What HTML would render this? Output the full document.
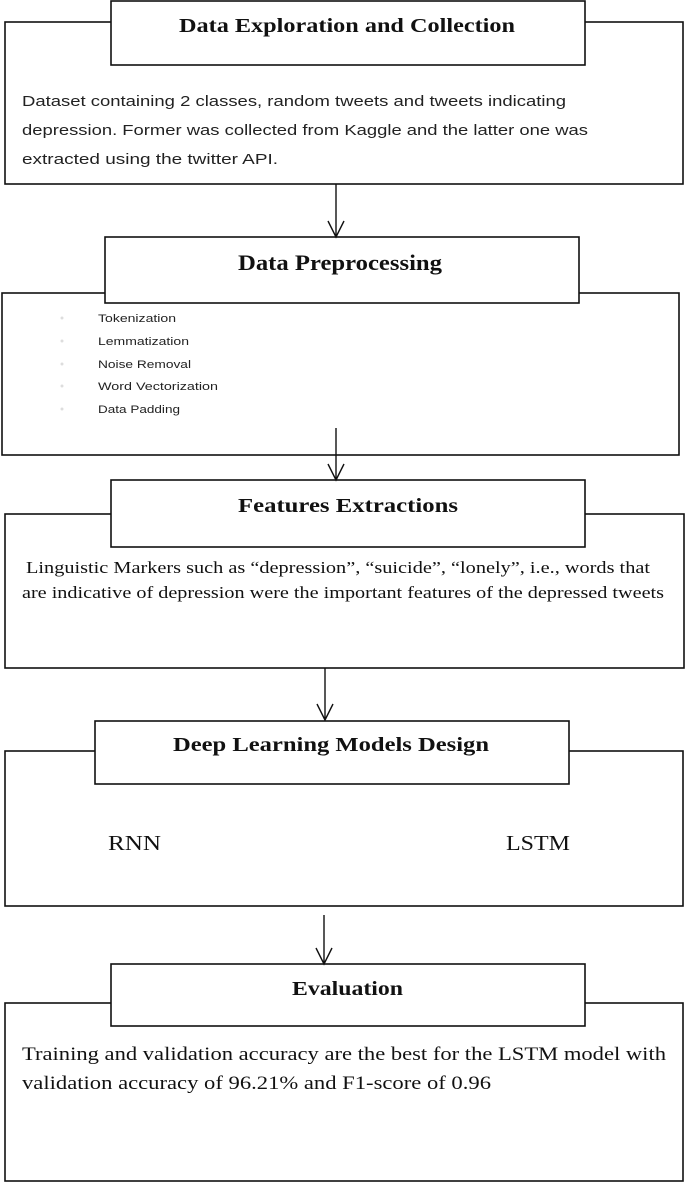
<!DOCTYPE html>
<html><head><meta charset="utf-8"><style>html,body{margin:0;padding:0;background:#fff}svg{display:block}</style></head>
<body>
<svg width="685" height="1183" viewBox="0 0 685 1183" xmlns="http://www.w3.org/2000/svg">
<g fill="#fff" stroke="#111" stroke-width="1.6">
<rect x="5" y="22" width="678" height="162"/>
<rect x="111" y="1" width="474" height="64"/>
<rect x="2" y="293" width="677" height="162"/>
<rect x="105" y="237" width="474" height="66"/>
<rect x="5" y="514" width="679" height="154"/>
<rect x="111" y="480" width="474" height="67"/>
<rect x="5" y="751" width="678" height="155"/>
<rect x="95" y="721" width="474" height="63"/>
<rect x="5" y="1003" width="678" height="178"/>
<rect x="111" y="964" width="474" height="62"/>
</g>
<g stroke="#111" stroke-width="1.4" fill="none">
<path d="M336 184V237M328 221L336 237L344 221"/>
<path d="M336 428V480M328 464L336 480L344 464"/>
<path d="M325 668V720M317 704L325 720L333 704"/>
<path d="M324 915V964M316 948L324 964L332 948"/>
</g>
<g font-family="Liberation Serif, serif" font-weight="bold" fill="#111" font-size="20">
<text x="179" y="32" textLength="336" lengthAdjust="spacingAndGlyphs">Data Exploration and Collection</text>
<text x="238" y="270" textLength="204" lengthAdjust="spacingAndGlyphs" font-size="22">Data Preprocessing</text>
<text x="238" y="512" textLength="220" lengthAdjust="spacingAndGlyphs">Features Extractions</text>
<text x="173" y="751" textLength="316" lengthAdjust="spacingAndGlyphs">Deep Learning Models Design</text>
<text x="292" y="995" textLength="111" lengthAdjust="spacingAndGlyphs">Evaluation</text>
</g>
<g font-family="Liberation Sans, sans-serif" fill="#222" font-size="15">
<text x="22" y="106" textLength="544" lengthAdjust="spacingAndGlyphs">Dataset containing 2 classes, random tweets and tweets indicating</text>
<text x="22" y="135" textLength="566" lengthAdjust="spacingAndGlyphs">depression. Former was collected from Kaggle and the latter one was</text>
<text x="22" y="164" textLength="256" lengthAdjust="spacingAndGlyphs">extracted using the twitter API.</text>
</g>
<g font-family="Liberation Sans, sans-serif" fill="#222" font-size="11">
<text x="98" y="322" textLength="78" lengthAdjust="spacingAndGlyphs">Tokenization</text>
<text x="98" y="345" textLength="91" lengthAdjust="spacingAndGlyphs">Lemmatization</text>
<text x="98" y="368" textLength="93" lengthAdjust="spacingAndGlyphs">Noise Removal</text>
<text x="98" y="390" textLength="120" lengthAdjust="spacingAndGlyphs">Word Vectorization</text>
<text x="98" y="413" textLength="82" lengthAdjust="spacingAndGlyphs">Data Padding</text>
</g>
<g fill="#ddd"><circle cx="62" cy="318" r="1.5"/><circle cx="62" cy="341" r="1.5"/><circle cx="62" cy="364" r="1.5"/><circle cx="62" cy="386" r="1.5"/><circle cx="62" cy="409" r="1.5"/></g>
<g font-family="Liberation Serif, serif" fill="#111" font-size="17">
<text x="26" y="573" textLength="624" lengthAdjust="spacingAndGlyphs">Linguistic Markers such as “depression”, “suicide”, “lonely”, i.e., words that</text>
<text x="22" y="598" textLength="642" lengthAdjust="spacingAndGlyphs">are indicative of depression were the important features of the depressed tweets</text>
<text x="108" y="850" font-size="21" textLength="53" lengthAdjust="spacingAndGlyphs">RNN</text>
<text x="506" y="850" font-size="21" textLength="64" lengthAdjust="spacingAndGlyphs">LSTM</text>
<text x="22" y="1060" font-size="19" textLength="644" lengthAdjust="spacingAndGlyphs">Training and validation accuracy are the best for the LSTM model with</text>
<text x="22" y="1089" font-size="19" textLength="469" lengthAdjust="spacingAndGlyphs">validation accuracy of 96.21% and F1-score of 0.96</text>
</g>
</svg>
</body></html>
